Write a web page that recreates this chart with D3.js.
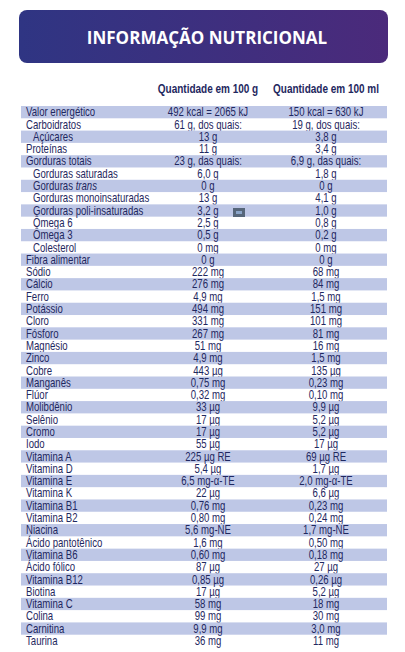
<!DOCTYPE html>
<html><head><meta charset="utf-8">
<script src="https://cdn.jsdelivr.net/npm/d3@7"></script>
<style>body{margin:0;background:#fff}</style>
</head><body><div id="chart"></div>
<script>
var nutrients = ["Valor energético","Carboidratos","Açúcares","Proteínas","Gorduras totais","Gorduras saturadas","Gorduras trans","Gorduras monoinsaturadas","Gorduras poli-insaturadas","Ômega 6","Ômega 3","Colesterol","Fibra alimentar","Sódio","Cálcio","Ferro","Potássio","Cloro","Fósforo","Magnésio","Zinco","Cobre","Manganês","Flúor","Molibdênio","Selênio","Cromo","Iodo","Vitamina A","Vitamina D","Vitamina E","Vitamina K","Vitamina B1","Vitamina B2","Niacina","Ácido pantotênico","Vitamina B6","Ácido fólico","Vitamina B12","Biotina","Vitamina C","Colina","Carnitina","Taurina"];
var indented = ["Açúcares","Gorduras saturadas","Gorduras trans","Gorduras monoinsaturadas","Gorduras poli-insaturadas","Ômega 6","Ômega 3","Colesterol"];
var per100g = ["492 kcal = 2065 kJ","61 g, dos quais:","13 g","11 g","23 g, das quais:","6,0 g","0 g","13 g","3,2 g","2,5 g","0,5 g","0 mg","0 g","222 mg","276 mg","4,9 mg","494 mg","331 mg","267 mg","51 mg","4,9 mg","443 µg","0,75 mg","0,32 mg","33 µg","17 µg","17 µg","55 µg","225 µg RE","5,4 µg","6,5 mg-α-TE","22 µg","0,76 mg","0,80 mg","5,6 mg-NE","1,6 mg","0,60 mg","87 µg","0,85 µg","17 µg","58 mg","99 mg","9,9 mg","36 mg"];
var per100ml = ["150 kcal = 630 kJ","19 g, dos quais:","3,8 g","3,4 g","6,9 g, das quais:","1,8 g","0 g","4,1 g","1,0 g","0,8 g","0,2 g","0 mg","0 g","68 mg","84 mg","1,5 mg","151 mg","101 mg","81 mg","16 mg","1,5 mg","135 µg","0,23 mg","0,10 mg","9,9 µg","5,2 µg","5,2 µg","17 µg","69 µg RE","1,7 µg","2,0 mg-α-TE","6,6 µg","0,23 mg","0,24 mg","1,7 mg-NE","0,50 mg","0,18 mg","27 µg","0,26 µg","5,2 µg","18 mg","30 mg","3,0 mg","11 mg"];
var columns = ["Quantidade em 100 g","Quantidade em 100 ml"];

var W = 405, H = 652;
var font = "'Liberation Sans',Arial,sans-serif";
var squeeze = 0.8;
var ink = "#1f2860";
var svg = d3.select("#chart").append("svg").attr("width", W).attr("height", H);

var grad = svg.append("defs").append("linearGradient").attr("id","hg");
grad.append("stop").attr("offset","0%").attr("stop-color","#2f3583");
grad.append("stop").attr("offset","100%").attr("stop-color","#4b2a7b");

svg.append("rect").attr("x",19).attr("y",10).attr("width",369).attr("height",53)
  .attr("rx",8).attr("fill","url(#hg)");
svg.append("text").attr("x",207).attr("y",44).attr("text-anchor","middle")
  .attr("fill","#fff").attr("font-family","'Open Sans',sans-serif").attr("font-weight","bold")
  .attr("font-size",17).text("INFORMAÇÃO NUTRICIONAL");

var y = d3.scaleBand().domain(nutrients).range([106, 647]);
var x = d3.scaleOrdinal().domain(columns).range([208, 326]);

// narrow text: put each label in a horizontally squeezed group
function narrow(sel, xf, yv) {
  return sel.append("g").attr("transform", (d,i) => `translate(${xf(d,i)},${yv}) scale(${squeeze},1)`)
    .append("text").attr("x",0).attr("y",0).attr("font-family", font)
    .attr("font-size",12).attr("fill", ink);
}

narrow(svg.selectAll(".colhead").data(columns).enter(), d => x(d), 93)
  .attr("text-anchor","middle").attr("font-weight","bold").attr("font-size",12.5).text(d => d);

var rows = svg.selectAll(".row").data(nutrients).enter().append("g")
  .attr("transform", d => `translate(0,${y(d)})`);

rows.filter((d,i) => i % 2 === 0).append("rect")
  .attr("x",21).attr("width",366).attr("height", y.bandwidth()).attr("fill","#bec7e6");

var base = y.bandwidth() - 2;

narrow(rows, d => indented.includes(d) ? 33 : 26, base)
  .each(function(d){
    var t = d3.select(this);
    if (d === "Gorduras trans") {
      t.append("tspan").text("Gorduras ");
      t.append("tspan").attr("font-style","italic").text("trans");
    } else t.text(d);
  });

narrow(rows, () => x(columns[0]), base).attr("text-anchor","middle").text((d,i) => per100g[i]);
narrow(rows, () => x(columns[1]), base).attr("text-anchor","middle").text((d,i) => per100ml[i]);

// small marker icon
svg.append("rect").attr("x",233).attr("y",208).attr("width",12).attr("height",9).attr("fill","#56667a");
svg.append("rect").attr("x",236).attr("y",211).attr("width",6).attr("height",3).attr("fill","#8aa4c8");
</script></body></html>
